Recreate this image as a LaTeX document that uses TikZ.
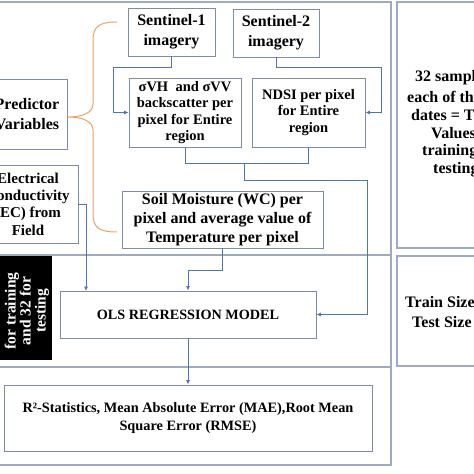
\documentclass[tikz,border=0pt]{standalone}
\usepackage{fontspec}
\setmainfont{Liberation Serif}
\usetikzlibrary{arrows.meta}
\definecolor{boxc}{HTML}{7D8CA8}
\definecolor{linec}{HTML}{4F74B8}
\definecolor{framec}{HTML}{9DAAC4}
\definecolor{bracec}{HTML}{E9A46A}
\tikzset{
  bx/.style={draw=boxc, line width=0.9pt, align=center, inner sep=0pt},
  conn/.style={draw=linec, line width=0.8pt},
  arr/.style={conn, -{Latex[length=4.5pt,width=4pt]}},
  frm/.style={draw=framec, line width=1.3pt},
  fa/.style={font=\fontsize{16}{20}\selectfont\bfseries},
  fb/.style={font=\fontsize{14.5}{16.5}\selectfont\bfseries},
  fc/.style={font=\fontsize{14.3}{18}\selectfont\bfseries},
  rt/.style={anchor=west, inner sep=0pt, font=\fontsize{16}{18}\selectfont\bfseries},
}
\begin{document}
\begin{tikzpicture}[x=1pt,y=-1pt]
\useasboundingbox (0,0) rectangle (474,474);
\clip (0,0) rectangle (474,474);
\fill[white] (0,0) rectangle (474,474);

% frames
\draw[frm] (-10,2) -- (391,2) -- (391,465) -- (-10,465);
\draw[frm] (-10,255) -- (391,255);
\draw[frm] (-10,367) -- (391,367);
\draw[frm] (397,2) rectangle (520,248);
\draw[frm] (397,256) rectangle (520,366);

% boxes
\node[bx, fa, minimum width=87pt, minimum height=48pt] (s1) at (171.5,32) {Sentinel-1\\imagery};
\node[bx, fa, minimum width=86pt, minimum height=48pt] (s2) at (276,33) {Sentinel-2\\imagery};
\node[bx, fb, minimum width=112pt, minimum height=69pt] (vh) at (185,112.5) {σVH\ \ and σVV\\backscatter per\\pixel for Entire\\region};
\node[bx, fb, minimum width=113pt, minimum height=69pt] (nd) at (308.5,112.5) {NDSI per pixel\\for Entire\\region};
\node[bx, fa, minimum width=80pt, minimum height=70pt] (pv) at (27,114) {Predictor\\Variables};
\node[bx, minimum width=100pt, minimum height=78pt, font=\fontsize{15}{17.3}\selectfont\bfseries] (ec) at (28,204) {Electrical\\Conductivity\\(EC) from\\Field};
\node[bx, minimum width=201pt, minimum height=57pt, font=\fontsize{16}{19}\selectfont\bfseries] (sm) at (222.5,219.5) {Soil Moisture (WC) per\\pixel and average value of\\Temperature per pixel};
\node[bx, minimum width=256pt, minimum height=47pt, font=\fontsize{14.2}{17}\selectfont\bfseries] (ols) at (188,314.5) {OLS REGRESSION MODEL};
\node[bx, fc, minimum width=368pt, minimum height=66pt] (r2) at (188,418) {R²-Statistics, Mean Absolute Error (MAE),Root Mean\\Square Error (RMSE)};

% black box
\fill[black] (-40,256) rectangle (52,360);
\node[rotate=90, text=white, align=center, inner sep=0pt, font=\fontsize{15.5}{15}\selectfont\bfseries] (bk) at (27,311) {for training\\and 32 for\\testing};

% right panel texts
\node[rt] (r1) at (415,78) {32 samples};
\node[rt] (r2a) at (407,97) {each of the};
\node[rt] (r3) at (411,115) {dates = T};
\node[rt] (r4) at (431,133) {Values};
\node[rt] (r5) at (422,152) {training};
\node[rt] (r6) at (433,170) {testing};
\node[rt] (t1) at (405,302) {Train Size};
\node[rt] (t2) at (412,322) {Test Size};

% brace
\draw[bracec, line width=1pt] (117,22) .. controls (100,22) and (93,26) .. (93,40) -- (93,104)
  .. controls (93,113) and (82,117) .. (pv.east |- 0,117) .. controls (82,117) and (93,121) .. (93,130)
  -- (93,214) .. controls (93,228) and (100,232) .. (117,232);

% connectors
\draw[arr] (s1.south) -- ++(0,11) -| (113,112.5) -- (vh.west);
\draw[arr] (s2.south) -- ++(0,10) -| (381,112.5) -- (nd.east);
\draw[conn] (vh.south) -- ++(0,16) -| (nd.south);
\coordinate (mj) at (244,163);
\draw[arr] (mj) |- (367,180) |- (ols.east);
\draw[arr] (ec.east) -| (86,291);
\draw[arr] (sm.south) -- ++(0,22) -| (ols.north);
\draw[arr] (ols.south) -- (r2.north);
\end{tikzpicture}
\end{document}
